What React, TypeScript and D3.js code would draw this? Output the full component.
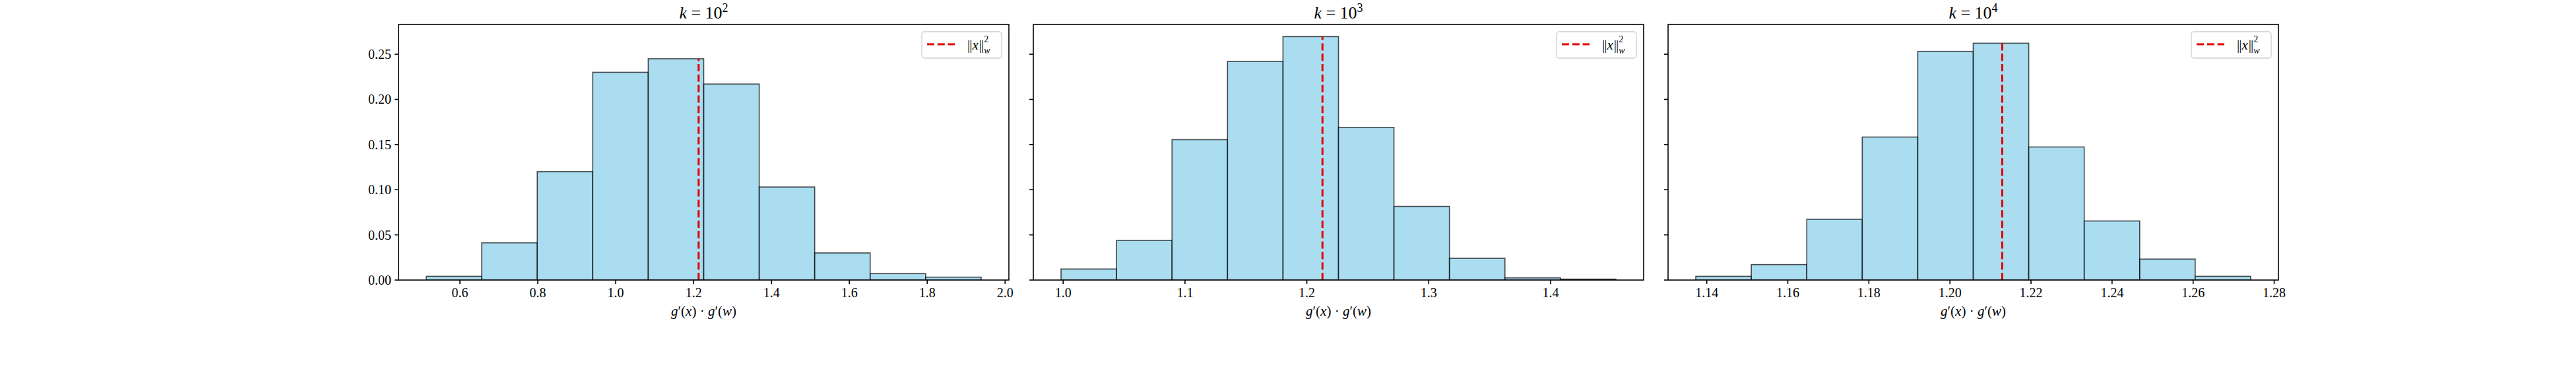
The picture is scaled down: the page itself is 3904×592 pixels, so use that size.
import React from "react";
import * as d3 from "d3";

// ---------- data ----------
const panelTitles = ["2", "3", "4"]; // exponent of k = 10^n
const binRanges: [number, number][] = [
  [0.5136, 1.9385],
  [0.9983, 1.4536],
  [1.1373, 1.2742],
];
const probs1 = [0.0041, 0.0412, 0.12, 0.23, 0.245, 0.217, 0.103, 0.03, 0.0071, 0.0032];
const probs2 = [0.0122, 0.0439, 0.1554, 0.242, 0.2695, 0.169, 0.0815, 0.0241, 0.0024, 0.001];
const probs3 = [0.0041, 0.0171, 0.0673, 0.1583, 0.2532, 0.2622, 0.1473, 0.0654, 0.0232, 0.0041];
const normValues = [1.213, 1.2128, 1.2129];
const xTicks1 = [0.6, 0.8, 1.0, 1.2, 1.4, 1.6, 1.8, 2.0];
const xTicks2 = [1.0, 1.1, 1.2, 1.3, 1.4];
const xTicks3 = [1.14, 1.16, 1.18, 1.2, 1.22, 1.24, 1.26, 1.28];
const xTickDecimals = [1, 1, 2];
const yTicks = [0, 0.05, 0.1, 0.15, 0.2, 0.25];

const allProbs = [probs1, probs2, probs3];
const allXTicks = [xTicks1, xTicks2, xTicks3];

// ---------- layout ----------
const W = 3904;
const H = 592;
const panelLeft = [604, 1566, 2528];
const panelW = 925;
const top = 37;
const bottom = 424;
const FONT = "'Liberation Serif', 'DejaVu Serif', serif";

const yMax = d3.max(allProbs.flat())! * 1.05;
const y = d3.scaleLinear().domain([0, yMax]).range([bottom, top]);

function Panel({ idx }: { idx: number }) {
  const [lo, hi] = binRanges[idx];
  const probs = allProbs[idx];
  const n = probs.length;
  const bw = (hi - lo) / n;
  const margin = (hi - lo) * 0.05;
  const left = panelLeft[idx];
  const x = d3.scaleLinear().domain([lo - margin, hi + margin]).range([left, left + panelW]);
  const fmt = d3.format(`.${xTickDecimals[idx]}f`);
  const maxP = d3.max(probs)!;
  const cx = left + panelW / 2;
  const lx0 = left + panelW - 11 - 121;
  return (
    <g>
      <defs>
        <clipPath id={`clip${idx}`}>
          <rect x={left} y={top} width={panelW} height={bottom - top} />
        </clipPath>
      </defs>
      {/* bars */}
      <g clipPath={`url(#clip${idx})`}>
        {probs.map((p, i) => {
          const x0 = x(lo + i * bw);
          const x1 = x(lo + (i + 1) * bw);
          return (
            <rect
              key={i}
              x={x0}
              y={y(p)}
              width={x1 - x0}
              height={y(0) - y(p)}
              fill="#87CEEB"
              fillOpacity={0.7}
              stroke="#000"
              strokeOpacity={0.7}
              strokeWidth={1.6}
            />
          );
        })}
        <line
          x1={x(normValues[idx])}
          x2={x(normValues[idx])}
          y1={y(0)}
          y2={y(maxP)}
          stroke="#e00000"
          strokeWidth={3}
          strokeDasharray="11 4.8"
        />
      </g>
      {/* frame */}
      <rect x={left} y={top} width={panelW} height={bottom - top} fill="none" stroke="#000" strokeWidth={1.6} />
      {/* x ticks */}
      {allXTicks[idx].map((t) => (
        <g key={t}>
          <line x1={x(t)} x2={x(t)} y1={bottom} y2={bottom + 6} stroke="#000" strokeWidth={1.6} />
          <text x={x(t)} y={450} fontSize={20} fontFamily={FONT} textAnchor="middle">
            {fmt(t)}
          </text>
        </g>
      ))}
      {/* y ticks */}
      {yTicks.map((t) => (
        <g key={t}>
          <line x1={left - 6} x2={left} y1={y(t)} y2={y(t)} stroke="#000" strokeWidth={1.6} />
          {idx === 0 && (
            <text x={left - 11} y={y(t) + 7} fontSize={20} fontFamily={FONT} textAnchor="end">
              {t.toFixed(2)}
            </text>
          )}
        </g>
      ))}
      {/* title */}
      <text x={cx} y={28} fontSize={26} fontFamily={FONT} textAnchor="middle">
        <tspan fontStyle="italic">k</tspan>
        <tspan> = 10</tspan>
        <tspan fontSize={18} dy={-10}>{panelTitles[idx]}</tspan>
      </text>
      {/* x label */}
      <text x={cx} y={478} fontSize={21} fontFamily={FONT} textAnchor="middle">
        <tspan fontStyle="italic">g</tspan>
        <tspan>′(</tspan>
        <tspan fontStyle="italic">x</tspan>
        <tspan>) · </tspan>
        <tspan fontStyle="italic">g</tspan>
        <tspan>′(</tspan>
        <tspan fontStyle="italic">w</tspan>
        <tspan>)</tspan>
      </text>
      {/* legend */}
      <rect x={lx0} y={48} width={121} height={40} rx={4} ry={4} fill="#fff" fillOpacity={0.8} stroke="#d0d0d0" strokeWidth={1.4} />
      <line x1={lx0 + 8} x2={lx0 + 50} y1={67} y2={67} stroke="#e00000" strokeWidth={3} strokeDasharray="11 4.8" />
      <text x={lx0 + 69} y={75} fontSize={21} fontFamily={FONT}>
        <tspan letterSpacing={-1}>||</tspan>
        <tspan fontStyle="italic" dx={1}>x</tspan>
        <tspan letterSpacing={-1} dx={1}>||</tspan>
        <tspan fontSize={14} dx={1} dy={-11}>2</tspan>
        <tspan fontSize={14} fontStyle="italic" dx={-7} dy={17}>w</tspan>
      </text>
    </g>
  );
}

export default function App() {
  return (
    <svg
      width={W}
      height={H}
      style={{ position: "absolute", left: 0, top: 0, background: "#fff" }}
    >
      <rect x={0} y={0} width={W} height={H} fill="#fff" />
      {[0, 1, 2].map((i) => (
        <Panel key={i} idx={i} />
      ))}
    </svg>
  );
}
